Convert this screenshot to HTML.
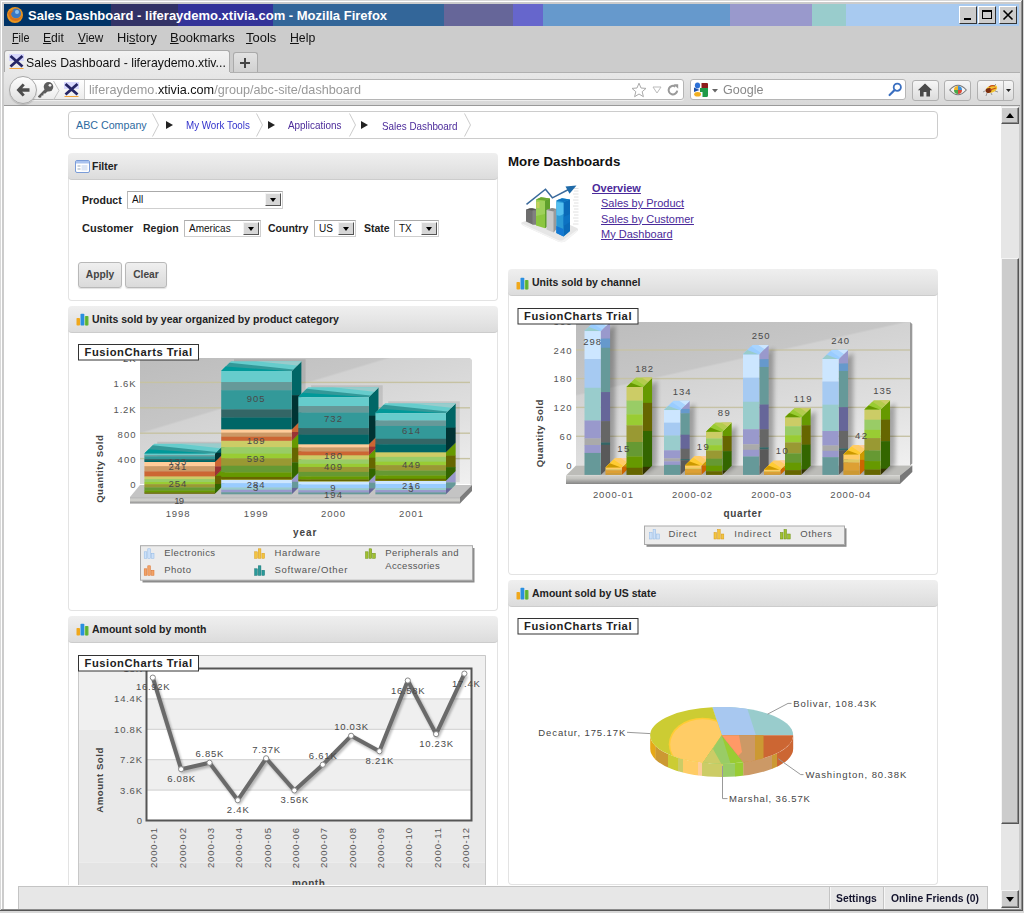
<!DOCTYPE html>
<html>
<head>
<meta charset="utf-8">
<title>Sales Dashboard</title>
<style>
*{box-sizing:border-box;margin:0;padding:0}
html,body{width:1024px;height:913px;overflow:hidden;background:#ccc;font-family:"Liberation Sans",sans-serif;}
body{position:relative}
.abs{position:absolute}
.t{position:absolute;white-space:nowrap;line-height:1}
/* title */
#titlebar{left:4px;top:4px;width:1015px;height:22px;background:linear-gradient(90deg,#003366 0,#003366 107px,#333366 107px,#333366 174px,#333399 174px,#333399 269px,#336699 269px,#336699 440px,#666699 440px,#666699 509px,#6666cc 509px,#6666cc 539px,#6699cc 539px,#6699cc 726px,#9999cc 726px,#9999cc 808px,#99cccc 808px,#99cccc 842px,#a8caf0 842px);}
.wbtn{position:absolute;top:6px;height:17px;width:16px;background:#ccc;border:1px solid;border-color:#fff #333 #333 #fff;}
.m{top:31px;font-size:13.5px;color:#111}
.m span{display:inline-block;transform-origin:0 0}
.tb{top:80px;height:21px;border:1px solid #b0b0b0;border-radius:3px;background:linear-gradient(#f6f6f6,#dcdcdc)}
.bc{top:120px;font-size:10.5px}
.fl{font-size:10.5px;font-weight:bold;color:#222}
.sel{position:absolute;height:17px;border:1px solid #cfcfcf;border-top-color:#aaa;border-left-color:#bbb;background:#fff;font-size:10px;color:#111;line-height:15px;padding-left:4px;white-space:nowrap}
.sel i{position:absolute;right:1px;top:1px;width:16px;height:13px;background:#d6d6d6;border:1px solid;border-color:#f4f4f4 #555 #555 #f4f4f4}
.sel i:after{content:"";position:absolute;left:3.5px;top:3.5px;border:3.5px solid transparent;border-top:4px solid #000;border-bottom:none}
.btn{position:absolute;height:26px;border:1px solid #b8b8b8;border-radius:3px;background:linear-gradient(#efefef,#dadada);font-size:10.2px;font-weight:bold;color:#444;text-align:center;line-height:24px;box-shadow:0 1px 1px rgba(0,0,0,.12)}
.lk{font-size:11px;color:#4b2a9a;text-decoration:underline}
.sbb{background:#ccc;border:1px solid;border-color:#f4f4f4 #555 #555 #f4f4f4;box-shadow:inset -1px -1px 0 #8c8c8c}
/* portlets */
.ph{position:absolute;height:27px;border-radius:4px;background:linear-gradient(#efefef 0,#e6e6e6 50%,#dcdcdc 100%);border-bottom:1px solid #ccc}
.pb{position:absolute;border:1px solid #e3e3e3;border-top:none;border-radius:0 0 4px 4px;background:#fff}
.pt{position:absolute;white-space:nowrap;font-weight:bold;font-size:10.5px;color:#222;line-height:1}
.fct{position:absolute;border:1px solid #333;background:#fff;font-family:"Liberation Sans",sans-serif;font-weight:bold;font-size:11.5px;color:#222;line-height:13px;height:16px;padding:0 6px;white-space:nowrap;letter-spacing:.2px}
svg{position:absolute;overflow:visible}
svg text{font-family:"Liberation Sans",sans-serif}
</style>
</head>
<body>
<!-- window frame -->
<div class="abs" style="left:0;top:0;width:1024px;height:913px;background:#ccc"></div>
<div class="abs" style="left:0;top:0;width:1024px;height:1px;background:#d8d8d8"></div>
<div class="abs" style="left:0;top:0;width:1px;height:913px;background:#d8d8d8"></div>
<div class="abs" style="left:1px;top:1px;width:1021px;height:1px;background:#fff"></div>
<div class="abs" style="left:1px;top:1px;width:1px;height:909px;background:#fff"></div>
<div class="abs" style="left:1021px;top:1px;width:1px;height:910px;background:#8c8c8c"></div>
<div class="abs" style="left:1022px;top:0;width:1px;height:912px;background:#555"></div>
<div class="abs" style="left:1023px;top:0;width:1px;height:913px;background:#d8d8d8"></div>
<div class="abs" style="left:1px;top:909px;width:1021px;height:1px;background:#8c8c8c"></div>
<div class="abs" style="left:0;top:910px;width:1023px;height:1px;background:#555"></div>
<div class="abs" style="left:0;top:911px;width:1024px;height:2px;background:#d8d8d8"></div>

<div id="titlebar" class="abs"></div>
<div class="t" id="titletext" style="left:28px;top:9px;font-size:13px;font-weight:bold;color:#fff;">Sales Dashboard - liferaydemo.xtivia.com - Mozilla Firefox</div>


<!-- window buttons -->
<div class="wbtn" style="left:959px;width:18px;height:18px"><div class="abs" style="left:4px;top:11px;width:7px;height:2px;background:#000"></div></div>
<div class="wbtn" style="left:978px;width:18px;height:18px"><div class="abs" style="left:3px;top:3px;width:10px;height:9px;border:1px solid #000;border-top:2px solid #000"></div></div>
<div class="wbtn" style="left:999px;width:18px;height:18px"><svg style="left:3px;top:3px" width="10" height="10" viewBox="0 0 10 10"><path d="M0.5 0.5 L9.5 9.5 M9.5 0.5 L0.5 9.5" stroke="#000" stroke-width="1.6" fill="none"/></svg></div>
<!-- firefox icon -->
<svg style="left:6px;top:6px" width="18" height="18" viewBox="0 0 18 18"><circle cx="9" cy="9" r="8" fill="#e8951f"/><circle cx="10" cy="7.5" r="5" fill="#3b78c4"/><path d="M2 7 Q3 14 9 15 Q15 15 16 9 Q14 13 9 12.5 Q5 12 5 8 Q6 5 8 5 Q5 3 2 7Z" fill="#d9711a"/><circle cx="11" cy="6" r="2" fill="#8cc0f0"/></svg>

<!-- menu bar -->
<div class="t m" style="left:12px;width:16px"><span style="transform:scaleX(.80)"><u>F</u>ile</span></div>
<div class="t m" style="left:43px"><span style="transform:scaleX(.90)"><u>E</u>dit</span></div>
<div class="t m" style="left:78px"><span style="transform:scaleX(.87)"><u>V</u>iew</span></div>
<div class="t m" style="left:117px"><span style="transform:scaleX(.95)">Hi<u>s</u>tory</span></div>
<div class="t m" style="left:170px"><span style="transform:scaleX(.96)"><u>B</u>ookmarks</span></div>
<div class="t m" style="left:246px"><span style="transform:scaleX(.96)"><u>T</u>ools</span></div>
<div class="t m" style="left:290px"><span style="transform:scaleX(.91)"><u>H</u>elp</span></div>

<!-- tab strip -->
<div class="abs" style="left:4px;top:50px;width:226px;height:24px;background:linear-gradient(#f2f2f2,#e6e6e6);border:1px solid #aaa;border-bottom:none;border-radius:3px 3px 0 0"></div>
<svg style="left:9px;top:54px" width="15" height="16" viewBox="0 0 15 16"><rect x="0" y="0" width="15" height="7" fill="#ccccff" opacity=".7"/><path d="M1.5 2 L13.5 12.5 M13.5 2 L1.5 12.5" stroke="#262666" stroke-width="2.8" fill="none"/><rect x="0.5" y="14" width="14" height="1" fill="#f2a33a"/></svg>
<div class="t" style="left:26px;top:56px;font-size:13px;color:#111"><span style="display:inline-block;transform:scaleX(.945);transform-origin:0 0">Sales Dashboard - liferaydemo.xtiv...</span></div>
<div class="abs" style="left:233px;top:52px;width:25px;height:21px;background:linear-gradient(#e2e2e2,#d0d0d0);border:1px solid #aaa;border-bottom:none;border-radius:3px 3px 0 0"></div>
<div class="abs" style="left:240px;top:62px;width:10px;height:2px;background:#444"></div>
<div class="abs" style="left:244px;top:58px;width:2px;height:10px;background:#444"></div>

<!-- nav bar -->
<div class="abs" style="left:4px;top:72px;width:1016px;height:34px;background:linear-gradient(#e8e8e8,#d8d8d8);border-bottom:1px solid #999"></div>
<div class="abs" style="left:230px;top:72px;width:790px;height:1px;background:#b0b0b0"></div>
<!-- url field -->
<div class="abs" style="left:20px;top:79px;width:664px;height:21px;background:#fff;border:1px solid #b5b5b5;border-radius:3px;box-shadow:0 1px 0 #eee"></div>
<div class="abs" style="left:21px;top:80px;width:63px;height:19px;background:linear-gradient(#fff,#ececec)"></div>
<div class="abs" style="left:84px;top:80px;width:1px;height:19px;background:#ccc"></div>
<!-- back button -->
<div class="abs" style="left:9px;top:76px;width:28px;height:28px;border-radius:14px;background:linear-gradient(#fdfdfd,#dedede);border:1px solid #a8a8a8;box-shadow:0 1px 1px rgba(0,0,0,.15)"></div>
<svg style="left:15px;top:82px" width="16" height="16" viewBox="0 0 16 16"><path d="M14.5 6.3 H7.2 L9.8 3.2 L7.6 1.6 L1.5 8 L7.6 14.4 L9.8 12.8 L7.2 9.7 H14.5 Z" fill="#4d4d4d"/></svg>
<!-- key icon -->
<svg style="left:37px;top:81px" width="17" height="18" viewBox="0 0 17 18"><circle cx="11.5" cy="5.8" r="4.8" fill="#5c5c5c"/><circle cx="13" cy="4.3" r="1.4" fill="#f2f2f2"/><path d="M8 8 L0.8 15.4 L2 16.8 L4.2 16.4 L4.5 14.6 L6.3 14.4 L6.6 12.6 L8.4 12.4 L11 10 Z" fill="#5c5c5c"/></svg>
<svg style="left:53px;top:81px" width="7" height="19" viewBox="0 0 7 19"><path d="M0.5 0 L6 9.5 L0.5 19" stroke="#c4c4c4" fill="none"/></svg>
<svg style="left:64px;top:82px" width="15" height="16" viewBox="0 0 15 16"><rect x="0" y="0" width="15" height="7" fill="#ccccff" opacity=".7"/><path d="M1.5 2 L13.5 12.5 M13.5 2 L1.5 12.5" stroke="#262666" stroke-width="2.8" fill="none"/><rect x="0.5" y="14" width="14" height="1" fill="#f2a33a"/></svg>
<div class="t" style="left:89px;top:83px;font-size:13.5px;color:#999"><span style="display:inline-block;transform:scaleX(.937);transform-origin:0 0">liferaydemo.<span style="color:#111">xtivia.com</span>/group/abc-site/dashboard</span></div>
<!-- star, dropdown, reload -->
<svg style="left:631px;top:82px" width="16" height="16" viewBox="0 0 16 16"><path d="M8 1.2 L10 6 L15 6.4 L11.2 9.7 L12.4 14.7 L8 12 L3.6 14.7 L4.8 9.7 L1 6.4 L6 6 Z" fill="#fff" stroke="#aaa" stroke-width="1"/></svg>
<svg style="left:652px;top:86px" width="10" height="8" viewBox="0 0 10 8"><path d="M1 1 H9 L5 7 Z" fill="#fff" stroke="#bbb"/></svg>
<svg style="left:666px;top:83px" width="14" height="14" viewBox="0 0 14 14"><path d="M11.2 7.6 A4.3 4.3 0 1 1 9.4 3.6" stroke="#999" stroke-width="2" fill="none"/><path d="M7.6 1.2 H12.2 V5.8 Z" fill="#999"/></svg>
<!-- search field -->
<div class="abs" style="left:690px;top:79px;width:216px;height:21px;background:#fff;border:1px solid #b5b5b5;border-radius:3px"></div>
<svg style="left:693px;top:82px" width="16" height="16" viewBox="0 0 16 16"><rect x="0.5" y="0.5" width="15" height="15" rx="2" fill="#fbfbfb"/><path d="M8.5 1 H14 Q15 1 15 2 V6 H8.5Z" fill="#8e1b1b"/><path d="M7 6 H15 V13.5 Q15 15 13.5 15 H9.5 V10 H7Z" fill="#1f9a48"/><ellipse cx="4.5" cy="3.6" rx="2.6" ry="3" fill="#2b6fd6"/><path d="M1 5.5 L6.5 8 L1 10Z" fill="#1d4fa8"/><ellipse cx="4.6" cy="12.2" rx="3.4" ry="2.3" fill="#f2b020"/></svg>
<svg style="left:712px;top:89px" width="6" height="3.5" viewBox="0 0 6 3.5"><path d="M0 0 H6 L3 3.5Z" fill="#666"/></svg>
<div class="t" style="left:723px;top:83px;font-size:13.5px;color:#888"><span style="display:inline-block;transform:scaleX(.93);transform-origin:0 0">Google</span></div>
<svg style="left:888px;top:82px" width="15" height="15" viewBox="0 0 15 15"><circle cx="9.3" cy="5.2" r="3.6" stroke="#3a6fc0" stroke-width="1.8" fill="#fff"/><path d="M6.6 8 L1.6 13" stroke="#3a6fc0" stroke-width="2.2" stroke-linecap="round"/></svg>
<!-- toolbar buttons -->
<div class="abs tb" style="left:912px;width:27px"></div>
<div class="abs tb" style="left:944px;width:27px"></div>
<div class="abs tb" style="left:977px;width:37px"></div>
<div class="abs" style="left:1003px;top:81px;width:1px;height:19px;background:#b5b5b5"></div>
<svg style="left:917px;top:83px" width="16" height="14" viewBox="0 0 16 14"><path d="M8 0.5 L0.8 7.2 H3 V13.5 H6.6 V9 H9.4 V13.5 H13 V7.2 H15.2 Z" fill="#4a4a4a"/></svg>
<svg style="left:949px;top:84px" width="18" height="12" viewBox="0 0 18 12"><path d="M0.7 6 Q9 -3.5 17.3 6 Q9 15.5 0.7 6Z" fill="#f4f4f4" stroke="#777" stroke-width="1.1"/><path d="M9 6 V2 A4 4 0 0 1 13 6Z" fill="#3d8fd6"/><path d="M9 6 H13 A4 4 0 0 1 9 10Z" fill="#d94a38"/><path d="M9 6 V10 A4 4 0 0 1 5 6Z" fill="#4aa84a"/><path d="M9 6 H5 A4 4 0 0 1 9 2Z" fill="#f0b429"/></svg>
<svg style="left:982px;top:82px" width="18" height="16" viewBox="0 0 18 16"><ellipse cx="9.5" cy="7" rx="6" ry="3.6" transform="rotate(-22 9.5 7)" fill="#f2c230"/><ellipse cx="6.5" cy="8.5" rx="3" ry="2.3" transform="rotate(-22 6.5 8.5)" fill="#7a2c10"/><path d="M7 5 Q10 3 13 4 M8 8 Q11 7 14 6" stroke="#c74c1a" stroke-width="1.2" fill="none"/><path d="M3 9 L1 10 M5 11 L4 14 M9 11 L10 13 M13 9 L16 10 M12 4 L14 2" stroke="#777" stroke-width=".7"/></svg>
<svg style="left:1006px;top:89px" width="5" height="3" viewBox="0 0 5 3"><path d="M0 0 H5 L2.5 3Z" fill="#222"/></svg>


<!-- content -->
<div id="content" class="abs" style="left:4px;top:106px;width:997px;height:779px;background:#fff;overflow:hidden">
<div class="abs" style="left:-4px;top:-106px;width:1024px;height:913px">
<div class="abs" style="left:68px;top:111px;width:870px;height:28px;border:1px solid #ccc;border-radius:4px;background:#fff"></div>
<div class="t bc" style="left:76px;color:#2d6aa0;font-size:10.7px">ABC Company</div>
<div class="t bc" style="left:186px;color:#3333cc;font-size:10.6px;top:120px"><span style="display:inline-block;transform:scaleX(.925);transform-origin:0 0">My Work Tools</span></div>
<div class="t bc" style="left:288px;color:#4b2a9a;font-size:10.6px;top:120px"><span style="display:inline-block;transform:scaleX(.935);transform-origin:0 0">Applications</span></div>
<div class="t bc" style="left:382px;top:120.5px;color:#4b2a9a;font-size:10.6px"><span style="display:inline-block;transform:scaleX(.93);transform-origin:0 0">Sales Dashboard</span></div>
<svg style="left:152px;top:113px" width="8" height="24" viewBox="0 0 8 24"><path d="M0.5 0.5 L6.5 12 L0.5 23.5" stroke="#ccc" fill="none"/></svg>
<svg style="left:256px;top:113px" width="8" height="24" viewBox="0 0 8 24"><path d="M0.5 0.5 L6.5 12 L0.5 23.5" stroke="#ccc" fill="none"/></svg>
<svg style="left:349px;top:113px" width="8" height="24" viewBox="0 0 8 24"><path d="M0.5 0.5 L6.5 12 L0.5 23.5" stroke="#ccc" fill="none"/></svg>
<svg style="left:464px;top:113px" width="8" height="24" viewBox="0 0 8 24"><path d="M0.5 0.5 L6.5 12 L0.5 23.5" stroke="#ccc" fill="none"/></svg>
<svg style="left:166px;top:121px" width="7" height="8" viewBox="0 0 7 8"><path d="M0 0 L7 4 L0 8Z" fill="#222"/></svg>
<svg style="left:268px;top:121px" width="7" height="8" viewBox="0 0 7 8"><path d="M0 0 L7 4 L0 8Z" fill="#222"/></svg>
<svg style="left:361px;top:121px" width="7" height="8" viewBox="0 0 7 8"><path d="M0 0 L7 4 L0 8Z" fill="#222"/></svg>
<div class="pb" style="left:68px;top:176px;width:430px;height:125px"></div>
<div class="ph" style="left:68px;top:153px;width:430px;height:27px"></div>
<svg style="left:75px;top:160px" width="15" height="13" viewBox="0 0 15 13"><rect x="0.5" y="0.5" width="14" height="12" rx="1.5" fill="#fff" stroke="#7a9cd8"/><rect x="1" y="1" width="13" height="2.5" fill="#a9c2ee"/><rect x="2.5" y="5.5" width="3" height="1" fill="#9ab"/><rect x="2.5" y="8.5" width="3" height="1" fill="#9ab"/><rect x="6.5" y="5" width="6" height="5.5" fill="#dde6f5"/></svg>
<div class="pt" style="left:92px;top:161px">Filter</div>
<div class="t fl" style="left:82px;top:195px">Product</div>
<div class="sel" style="left:127px;top:191px;width:156px;height:18px"><span>All</span><i></i></div>
<div class="t fl" style="left:82px;top:223px;font-size:11px">Customer</div>
<div class="t fl" style="left:143px;top:223px">Region</div>
<div class="sel" style="left:184px;top:220px;width:77px"><span>Americas</span><i></i></div>
<div class="t fl" style="left:268px;top:223px">Country</div>
<div class="sel" style="left:314px;top:220px;width:42px"><span>US</span><i></i></div>
<div class="t fl" style="left:364px;top:223px">State</div>
<div class="sel" style="left:394px;top:220px;width:45px"><span>TX</span><i></i></div>
<div class="btn" style="left:78px;top:262px;width:44px">Apply</div>
<div class="btn" style="left:125px;top:262px;width:42px">Clear</div>
<div class="pb" style="left:68px;top:329px;width:430px;height:282px"></div>
<div class="ph" style="left:68px;top:306px;width:430px;height:27px"></div>
<svg style="left:76px;top:313px" width="13" height="13" viewBox="0 0 13 13"><rect x="0.5" y="5" width="3.5" height="7.5" rx=".8" fill="#f0a81c"/><rect x="4.5" y="0.8" width="3.8" height="11.7" rx=".8" fill="#2a8fe0"/><rect x="8.8" y="3" width="3.7" height="9.5" rx=".8" fill="#6cbf3c"/><rect x="10.3" y="3" width="1" height="9.5" fill="#4a9a2a" opacity=".6"/></svg>
<div class="pt" style="left:92px;top:314px">Units sold by year organized by product category</div>
<svg style="left:0;top:0" width="1024" height="913" viewBox="0 0 1024 913">
<defs><linearGradient id="wall1" gradientUnits="userSpaceOnUse" x1="140" y1="358" x2="202.6" y2="564.9"><stop offset="0" stop-color="#bcbcbc"/><stop offset=".328" stop-color="#c6c6c6"/><stop offset=".338" stop-color="#d2d2d2"/><stop offset=".7" stop-color="#e0e0e0"/><stop offset="1" stop-color="#f0f0f0"/></linearGradient>
<linearGradient id="base1" x1="0" y1="0" x2="0" y2="1"><stop offset="0" stop-color="#b8b8b8"/><stop offset=".5" stop-color="#d4d4d0"/><stop offset="1" stop-color="#8a8a8a"/></linearGradient></defs>
<rect x="140" y="358" width="330" height="126" fill="url(#wall1)"/>
<path d="M470 358 L472 360 L472 486 L470 484Z" fill="#d8d8d8"/>
<rect x="140" y="381.7" width="330" height="1.4" fill="#c6c2a2"/><rect x="140" y="407.09999999999997" width="330" height="1.4" fill="#c6c2a2"/><rect x="140" y="432.5" width="330" height="1.4" fill="#c6c2a2"/><rect x="140" y="457.9" width="330" height="1.4" fill="#c6c2a2"/>
<path d="M140 485 L472 485 L460 497 L130 497Z" fill="#c4c4c4"/>
<path d="M472 485 L472 491 L460 503.5 L460 497Z" fill="#7c7c7c"/>
<rect x="130" y="497" width="330" height="6.5" fill="url(#base1)"/>
<text x="135.5" y="361.8" font-size="9.5" fill="#555" text-anchor="end" textLength="12.5" lengthAdjust="spacing">2K</text>
<text x="135.5" y="387.3" font-size="9.5" fill="#555" text-anchor="end" textLength="21.9" lengthAdjust="spacing">1.6K</text>
<text x="135.5" y="412.5" font-size="9.5" fill="#555" text-anchor="end" textLength="21.9" lengthAdjust="spacing">1.2K</text>
<text x="135.5" y="437.8" font-size="9.5" fill="#555" text-anchor="end" textLength="17.9" lengthAdjust="spacing">800</text>
<text x="135.5" y="462.8" font-size="9.5" fill="#555" text-anchor="end" textLength="17.9" lengthAdjust="spacing">400</text>
<text x="135.5" y="488.0" font-size="9.5" fill="#555" text-anchor="end" textLength="6.0" lengthAdjust="spacing">0</text>
<text x="103.0" y="469.0" font-size="9.6" fill="#444" text-anchor="middle" textLength="67.6" lengthAdjust="spacing" font-weight="bold" transform="rotate(-90 103 469)">Quantity Sold</text>
<rect x="157.2" y="441.8" width="71.6" height="39.9" fill="#000" opacity=".10"/>
<rect x="144.4" y="476.10" width="70.6" height="3.26" fill="#cccc66"/><rect x="144.4" y="479.06" width="70.6" height="3.26" fill="#99cc66"/><rect x="144.4" y="482.02" width="70.6" height="2.39" fill="#99cc33"/><rect x="144.4" y="484.10" width="70.6" height="3.61" fill="#999933"/><rect x="144.4" y="487.41" width="70.6" height="3.26" fill="#669933"/><rect x="144.4" y="490.37" width="70.6" height="2.39" fill="#669900"/><rect x="144.4" y="492.46" width="70.6" height="1.34" fill="#666600"/>
<clipPath id="sc1"><path d="M215.0 476.10 L224.8 466.30 L224.8 484.00 L215.0 493.80Z"/></clipPath><g clip-path="url(#sc1)"><rect x="215.0" y="466.30" width="9.8" height="9.82" fill="#669900"/><rect x="215.0" y="475.82" width="9.8" height="8.46" fill="#666600"/><rect x="215.0" y="483.98" width="9.8" height="9.82" fill="#336600"/></g>
<rect x="144.4" y="461.70" width="70.6" height="4.76" fill="#ffcc99"/><rect x="144.4" y="466.16" width="70.6" height="5.48" fill="#cc9966"/><rect x="144.4" y="471.35" width="70.6" height="5.05" fill="#cc6633"/>
<clipPath id="sc2"><path d="M215.0 461.70 L224.8 451.90 L224.8 466.60 L215.0 476.40Z"/></clipPath><g clip-path="url(#sc2)"><rect x="215.0" y="451.90" width="9.8" height="14.82" fill="#cc6633"/><rect x="215.0" y="466.42" width="9.8" height="9.98" fill="#993333"/></g>
<rect x="144.4" y="453.60" width="70.6" height="1.84" fill="#66cccc"/><rect x="144.4" y="455.14" width="70.6" height="1.43" fill="#669999"/><rect x="144.4" y="456.27" width="70.6" height="2.97" fill="#339999"/><rect x="144.4" y="458.95" width="70.6" height="1.43" fill="#336666"/><rect x="144.4" y="460.08" width="70.6" height="1.92" fill="#006666"/>
<clipPath id="sc3"><path d="M215.0 453.60 L224.8 443.80 L224.8 452.20 L215.0 462.00Z"/></clipPath><g clip-path="url(#sc3)"><rect x="215.0" y="443.80" width="9.8" height="9.25" fill="#006666"/><rect x="215.0" y="452.75" width="9.8" height="9.25" fill="#003333"/></g>
<path d="M144.4 453.6 L154.2 443.8 L224.8 443.8 L215.0 453.6Z" fill="#66cccc"/><path d="M144.4 453.6 L152.7 445.3 L216.5 452.1 L215.0 453.6Z" fill="#339999"/><path d="M144.4 453.6 L148.8 449.2 L211.5 453.6Z" fill="#009999"/><path d="M178.9 443.8 L224.8 443.8 L220.4 448.2Z" fill="#99cccc"/>
<text x="177.6" y="517.3" font-size="9.5" fill="#555" text-anchor="middle" textLength="23.9" lengthAdjust="spacing">1998</text>
<rect x="234.0" y="359.2" width="71.6" height="123.0" fill="#000" opacity=".10"/>
<rect x="221.2" y="479.30" width="70.6" height="4.12" fill="#cce6ff"/><rect x="221.2" y="483.12" width="70.6" height="4.71" fill="#99ccff"/><rect x="221.2" y="487.53" width="70.6" height="2.50" fill="#99cccc"/><rect x="221.2" y="489.74" width="70.6" height="2.80" fill="#9999cc"/><rect x="221.2" y="492.24" width="70.6" height="2.06" fill="#669999"/>
<clipPath id="sc4"><path d="M291.8 479.30 L301.6 469.50 L301.6 484.50 L291.8 494.30Z"/></clipPath><g clip-path="url(#sc4)"><rect x="291.8" y="469.50" width="9.8" height="12.55" fill="#9999cc"/><rect x="291.8" y="481.75" width="9.8" height="6.42" fill="#669999"/><rect x="291.8" y="487.88" width="9.8" height="6.42" fill="#666699"/></g>
<rect x="221.2" y="478.7" width="70.6" height="1" fill="#cccc33"/><rect x="221.2" y="440.50" width="70.6" height="6.90" fill="#cccc66"/><rect x="221.2" y="447.10" width="70.6" height="6.90" fill="#99cc66"/><rect x="221.2" y="453.69" width="70.6" height="4.96" fill="#99cc33"/><rect x="221.2" y="458.35" width="70.6" height="7.67" fill="#999933"/><rect x="221.2" y="465.72" width="70.6" height="6.90" fill="#669933"/><rect x="221.2" y="472.32" width="70.6" height="4.96" fill="#669900"/><rect x="221.2" y="476.97" width="70.6" height="2.63" fill="#666600"/>
<clipPath id="sc5"><path d="M291.8 440.50 L301.6 430.70 L301.6 469.80 L291.8 479.60Z"/></clipPath><g clip-path="url(#sc5)"><rect x="291.8" y="430.70" width="9.8" height="17.31" fill="#669900"/><rect x="291.8" y="447.71" width="9.8" height="14.88" fill="#666600"/><rect x="291.8" y="462.29" width="9.8" height="17.31" fill="#336600"/></g>
<rect x="221.2" y="429.10" width="70.6" height="3.83" fill="#ffcc99"/><rect x="221.2" y="432.63" width="70.6" height="4.40" fill="#cc9966"/><rect x="221.2" y="436.74" width="70.6" height="4.06" fill="#cc6633"/>
<clipPath id="sc6"><path d="M291.8 429.10 L301.6 419.30 L301.6 431.00 L291.8 440.80Z"/></clipPath><g clip-path="url(#sc6)"><rect x="291.8" y="419.30" width="9.8" height="13.02" fill="#cc6633"/><rect x="291.8" y="432.02" width="9.8" height="8.78" fill="#993333"/></g>
<rect x="221.2" y="371.00" width="70.6" height="11.34" fill="#66cccc"/><rect x="221.2" y="382.04" width="70.6" height="8.43" fill="#669999"/><rect x="221.2" y="390.17" width="70.6" height="19.47" fill="#339999"/><rect x="221.2" y="409.35" width="70.6" height="8.43" fill="#336666"/><rect x="221.2" y="417.48" width="70.6" height="11.92" fill="#006666"/>
<clipPath id="sc7"><path d="M291.8 371.00 L301.6 361.20 L301.6 419.60 L291.8 429.40Z"/></clipPath><g clip-path="url(#sc7)"><rect x="291.8" y="361.20" width="9.8" height="34.25" fill="#006666"/><rect x="291.8" y="395.15" width="9.8" height="34.25" fill="#003333"/></g>
<path d="M221.2 371.0 L231.0 361.2 L301.6 361.2 L291.8 371.0Z" fill="#66cccc"/><path d="M221.2 371.0 L229.5 362.7 L293.3 369.5 L291.8 371.0Z" fill="#339999"/><path d="M221.2 371.0 L225.6 366.6 L288.3 371.0Z" fill="#009999"/><path d="M255.7 361.2 L301.6 361.2 L297.2 365.6Z" fill="#99cccc"/>
<text x="255.7" y="517.3" font-size="9.5" fill="#555" text-anchor="middle" textLength="23.9" lengthAdjust="spacing">1999</text>
<rect x="311.1" y="385.3" width="71.6" height="96.9" fill="#000" opacity=".10"/>
<rect x="298.3" y="481.00" width="70.6" height="3.68" fill="#cce6ff"/><rect x="298.3" y="484.38" width="70.6" height="4.20" fill="#99ccff"/><rect x="298.3" y="488.28" width="70.6" height="2.25" fill="#99cccc"/><rect x="298.3" y="490.23" width="70.6" height="2.51" fill="#9999cc"/><rect x="298.3" y="492.44" width="70.6" height="1.86" fill="#669999"/>
<clipPath id="sc8"><path d="M368.9 481.00 L378.7 471.20 L378.7 484.50 L368.9 494.30Z"/></clipPath><g clip-path="url(#sc8)"><rect x="368.9" y="471.20" width="9.8" height="11.70" fill="#9999cc"/><rect x="368.9" y="482.60" width="9.8" height="6.00" fill="#669999"/><rect x="368.9" y="488.30" width="9.8" height="6.00" fill="#666699"/></g>
<rect x="298.3" y="480.4" width="70.6" height="1" fill="#cccc33"/><rect x="298.3" y="455.00" width="70.6" height="4.72" fill="#cccc66"/><rect x="298.3" y="459.42" width="70.6" height="4.72" fill="#99cc66"/><rect x="298.3" y="463.84" width="70.6" height="3.42" fill="#99cc33"/><rect x="298.3" y="466.96" width="70.6" height="5.24" fill="#999933"/><rect x="298.3" y="471.90" width="70.6" height="4.72" fill="#669933"/><rect x="298.3" y="476.32" width="70.6" height="3.42" fill="#669900"/><rect x="298.3" y="479.44" width="70.6" height="1.86" fill="#666600"/>
<clipPath id="sc9"><path d="M368.9 455.00 L378.7 445.20 L378.7 471.50 L368.9 481.30Z"/></clipPath><g clip-path="url(#sc9)"><rect x="368.9" y="445.20" width="9.8" height="12.83" fill="#669900"/><rect x="368.9" y="457.73" width="9.8" height="11.04" fill="#666600"/><rect x="368.9" y="468.47" width="9.8" height="12.83" fill="#336600"/></g>
<rect x="298.3" y="444.00" width="70.6" height="3.71" fill="#ffcc99"/><rect x="298.3" y="447.41" width="70.6" height="4.26" fill="#cc9966"/><rect x="298.3" y="451.37" width="70.6" height="3.93" fill="#cc6633"/>
<clipPath id="sc10"><path d="M368.9 444.00 L378.7 434.20 L378.7 445.50 L368.9 455.30Z"/></clipPath><g clip-path="url(#sc10)"><rect x="368.9" y="434.20" width="9.8" height="12.78" fill="#cc6633"/><rect x="368.9" y="446.68" width="9.8" height="8.62" fill="#993333"/></g>
<rect x="298.3" y="397.10" width="70.6" height="9.21" fill="#66cccc"/><rect x="298.3" y="406.01" width="70.6" height="6.87" fill="#669999"/><rect x="298.3" y="412.58" width="70.6" height="15.78" fill="#339999"/><rect x="298.3" y="428.05" width="70.6" height="6.87" fill="#336666"/><rect x="298.3" y="434.62" width="70.6" height="9.68" fill="#006666"/>
<clipPath id="sc11"><path d="M368.9 397.10 L378.7 387.30 L378.7 434.50 L368.9 444.30Z"/></clipPath><g clip-path="url(#sc11)"><rect x="368.9" y="387.30" width="9.8" height="28.65" fill="#006666"/><rect x="368.9" y="415.65" width="9.8" height="28.65" fill="#003333"/></g>
<path d="M298.3 397.1 L308.1 387.3 L378.7 387.3 L368.9 397.1Z" fill="#66cccc"/><path d="M298.3 397.1 L306.6 388.8 L370.4 395.6 L368.9 397.1Z" fill="#339999"/><path d="M298.3 397.1 L302.7 392.7 L365.4 397.1Z" fill="#009999"/><path d="M332.8 387.3 L378.7 387.3 L374.3 391.7Z" fill="#99cccc"/>
<text x="333.0" y="517.3" font-size="9.5" fill="#555" text-anchor="middle" textLength="23.9" lengthAdjust="spacing">2000</text>
<rect x="388.2" y="401.3" width="71.6" height="80.9" fill="#000" opacity=".10"/>
<rect x="375.4" y="480.50" width="70.6" height="3.81" fill="#cce6ff"/><rect x="375.4" y="484.01" width="70.6" height="4.35" fill="#99ccff"/><rect x="375.4" y="488.06" width="70.6" height="2.32" fill="#99cccc"/><rect x="375.4" y="490.08" width="70.6" height="2.60" fill="#9999cc"/><rect x="375.4" y="492.38" width="70.6" height="1.92" fill="#669999"/>
<clipPath id="sc12"><path d="M446.0 480.50 L455.8 470.70 L455.8 484.50 L446.0 494.30Z"/></clipPath><g clip-path="url(#sc12)"><rect x="446.0" y="470.70" width="9.8" height="11.95" fill="#9999cc"/><rect x="446.0" y="482.35" width="9.8" height="6.13" fill="#669999"/><rect x="446.0" y="488.18" width="9.8" height="6.13" fill="#666699"/></g>
<rect x="375.4" y="479.9" width="70.6" height="1" fill="#cccc33"/><rect x="375.4" y="452.00" width="70.6" height="5.15" fill="#cccc66"/><rect x="375.4" y="456.85" width="70.6" height="5.15" fill="#99cc66"/><rect x="375.4" y="461.69" width="70.6" height="3.72" fill="#99cc33"/><rect x="375.4" y="465.11" width="70.6" height="5.71" fill="#999933"/><rect x="375.4" y="470.53" width="70.6" height="5.15" fill="#669933"/><rect x="375.4" y="475.37" width="70.6" height="3.72" fill="#669900"/><rect x="375.4" y="478.79" width="70.6" height="2.01" fill="#666600"/>
<clipPath id="sc13"><path d="M446.0 452.00 L455.8 442.20 L455.8 471.00 L446.0 480.80Z"/></clipPath><g clip-path="url(#sc13)"><rect x="446.0" y="442.20" width="9.8" height="13.71" fill="#669900"/><rect x="446.0" y="455.61" width="9.8" height="11.79" fill="#666600"/><rect x="446.0" y="467.10" width="9.8" height="13.71" fill="#336600"/></g>
<rect x="375.4" y="413.10" width="70.6" height="7.69" fill="#66cccc"/><rect x="375.4" y="420.49" width="70.6" height="5.75" fill="#669999"/><rect x="375.4" y="425.94" width="70.6" height="13.14" fill="#339999"/><rect x="375.4" y="438.77" width="70.6" height="5.75" fill="#336666"/><rect x="375.4" y="444.22" width="70.6" height="8.08" fill="#006666"/>
<clipPath id="sc14"><path d="M446.0 413.10 L455.8 403.30 L455.8 442.50 L446.0 452.30Z"/></clipPath><g clip-path="url(#sc14)"><rect x="446.0" y="403.30" width="9.8" height="24.65" fill="#006666"/><rect x="446.0" y="427.65" width="9.8" height="24.65" fill="#003333"/></g>
<path d="M375.4 413.1 L385.2 403.3 L455.8 403.3 L446.0 413.1Z" fill="#66cccc"/><path d="M375.4 413.1 L383.7 404.8 L447.5 411.6 L446.0 413.1Z" fill="#339999"/><path d="M375.4 413.1 L379.8 408.7 L442.5 413.1Z" fill="#009999"/><path d="M409.9 403.3 L455.8 403.3 L451.4 407.7Z" fill="#99cccc"/>
<text x="411.0" y="517.3" font-size="9.5" fill="#555" text-anchor="middle" textLength="23.9" lengthAdjust="spacing">2001</text>
<text x="177.4" y="464.9" font-size="9.5" fill="#4a4a4a" text-anchor="middle" textLength="17.9" lengthAdjust="spacing">133</text>
<text x="177.4" y="470.4" font-size="9.5" fill="#4a4a4a" text-anchor="middle" textLength="17.9" lengthAdjust="spacing">241</text>
<text x="177.4" y="486.7" font-size="9.5" fill="#4a4a4a" text-anchor="middle" textLength="17.9" lengthAdjust="spacing">254</text>
<text x="255.7" y="402.3" font-size="9.5" fill="#4a4a4a" text-anchor="middle" textLength="17.9" lengthAdjust="spacing">905</text>
<text x="255.7" y="443.9" font-size="9.5" fill="#4a4a4a" text-anchor="middle" textLength="17.9" lengthAdjust="spacing">189</text>
<text x="255.7" y="462.0" font-size="9.5" fill="#4a4a4a" text-anchor="middle" textLength="17.9" lengthAdjust="spacing">593</text>
<text x="255.7" y="488.4" font-size="9.5" fill="#4a4a4a" text-anchor="middle" textLength="17.9" lengthAdjust="spacing">284</text>
<text x="255.7" y="491.0" font-size="9.5" fill="#4a4a4a" text-anchor="middle" textLength="6.0" lengthAdjust="spacing">3</text>
<text x="333.0" y="422.3" font-size="9.5" fill="#4a4a4a" text-anchor="middle" textLength="17.9" lengthAdjust="spacing">732</text>
<text x="333.0" y="458.9" font-size="9.5" fill="#4a4a4a" text-anchor="middle" textLength="17.9" lengthAdjust="spacing">180</text>
<text x="333.0" y="470.3" font-size="9.5" fill="#4a4a4a" text-anchor="middle" textLength="17.9" lengthAdjust="spacing">409</text>
<text x="333.0" y="490.5" font-size="9.5" fill="#4a4a4a" text-anchor="middle" textLength="6.0" lengthAdjust="spacing">9</text>
<text x="333.0" y="497.5" font-size="9.5" fill="#4a4a4a" text-anchor="middle" textLength="17.9" lengthAdjust="spacing">194</text>
<text x="411.0" y="434.0" font-size="9.5" fill="#4a4a4a" text-anchor="middle" textLength="17.9" lengthAdjust="spacing">614</text>
<text x="411.0" y="467.7" font-size="9.5" fill="#4a4a4a" text-anchor="middle" textLength="17.9" lengthAdjust="spacing">449</text>
<text x="411.0" y="489.2" font-size="9.5" fill="#4a4a4a" text-anchor="middle" textLength="17.9" lengthAdjust="spacing">216</text>
<text x="411.0" y="492.0" font-size="9.5" fill="#4a4a4a" text-anchor="middle" textLength="6.0" lengthAdjust="spacing">3</text>
<text x="181.5" y="503.8" font-size="9.5" fill="#4a4a4a" text-anchor="middle" textLength="6.0" lengthAdjust="spacing">9</text>
<text x="177.0" y="503.8" font-size="9.5" fill="#4a4a4a" text-anchor="middle" textLength="6.0" lengthAdjust="spacing">1</text>
<text x="304.7" y="536.0" font-size="10" fill="#444" text-anchor="middle" textLength="23.3" lengthAdjust="spacing" font-weight="bold">year</text>
<rect x="142.5" y="548" width="332" height="34.5" fill="#8c8c8c"/>
<rect x="140.5" y="545.7" width="332" height="34.5" fill="#ececec" stroke="#aaa"/>
<rect x="144.2" y="551.8" width="2.6" height="6.5" fill="#cce0f8" stroke="#8fb8e6" stroke-width=".5"/><rect x="147.79999999999998" y="548.8" width="2.6" height="9.5" fill="#cce0f8" stroke="#8fb8e6" stroke-width=".5"/><rect x="151.39999999999998" y="553.3" width="2.6" height="5" fill="#cce0f8" stroke="#8fb8e6" stroke-width=".5"/>
<text x="164.3" y="555.8" font-size="9.5" fill="#555" text-anchor="start" textLength="50.8" lengthAdjust="spacing">Electronics</text>
<rect x="144.2" y="568.8" width="2.6" height="6.5" fill="#f2a266" stroke="#d9702a" stroke-width=".5"/><rect x="147.79999999999998" y="565.8" width="2.6" height="9.5" fill="#f2a266" stroke="#d9702a" stroke-width=".5"/><rect x="151.39999999999998" y="570.3" width="2.6" height="5" fill="#f2a266" stroke="#d9702a" stroke-width=".5"/>
<text x="164.3" y="572.8" font-size="9.5" fill="#555" text-anchor="start" textLength="26.7" lengthAdjust="spacing">Photo</text>
<rect x="254.7" y="551.8" width="2.6" height="6.5" fill="#f2c440" stroke="#d99a14" stroke-width=".5"/><rect x="258.3" y="548.8" width="2.6" height="9.5" fill="#f2c440" stroke="#d99a14" stroke-width=".5"/><rect x="261.9" y="553.3" width="2.6" height="5" fill="#f2c440" stroke="#d99a14" stroke-width=".5"/>
<text x="274.5" y="555.8" font-size="9.5" fill="#555" text-anchor="start" textLength="45.5" lengthAdjust="spacing">Hardware</text>
<rect x="254.7" y="568.8" width="2.6" height="6.5" fill="#2a9a9a" stroke="#0d7070" stroke-width=".5"/><rect x="258.3" y="565.8" width="2.6" height="9.5" fill="#2a9a9a" stroke="#0d7070" stroke-width=".5"/><rect x="261.9" y="570.3" width="2.6" height="5" fill="#2a9a9a" stroke="#0d7070" stroke-width=".5"/>
<text x="274.5" y="572.8" font-size="9.5" fill="#555" text-anchor="start" textLength="73.0" lengthAdjust="spacing">Software/Other</text>
<rect x="365.5" y="551.8" width="2.6" height="6.5" fill="#a0c030" stroke="#6a9010" stroke-width=".5"/><rect x="369.1" y="548.8" width="2.6" height="9.5" fill="#a0c030" stroke="#6a9010" stroke-width=".5"/><rect x="372.7" y="553.3" width="2.6" height="5" fill="#a0c030" stroke="#6a9010" stroke-width=".5"/>
<text x="385.3" y="555.8" font-size="9.5" fill="#555" text-anchor="start" textLength="73.2" lengthAdjust="spacing">Peripherals and</text>
<text x="385.3" y="569.2" font-size="9.5" fill="#555" text-anchor="start" textLength="54.4" lengthAdjust="spacing">Accessories</text>
<rect x="78.5" y="344.5" width="120" height="15.5" fill="#fff" stroke="#333"/>
<text x="84.5" y="356.1" font-size="11.2" fill="#222" text-anchor="start" textLength="107.5" lengthAdjust="spacing" font-weight="bold">FusionCharts Trial</text>
</svg>

<div class="pb" style="left:68px;top:639px;width:430px;height:304px"></div>
<div class="ph" style="left:68px;top:616px;width:430px;height:27px"></div>
<svg style="left:76px;top:623px" width="13" height="13" viewBox="0 0 13 13"><rect x="0.5" y="5" width="3.5" height="7.5" rx=".8" fill="#f0a81c"/><rect x="4.5" y="0.8" width="3.8" height="11.7" rx=".8" fill="#2a8fe0"/><rect x="8.8" y="3" width="3.7" height="9.5" rx=".8" fill="#6cbf3c"/><rect x="10.3" y="3" width="1" height="9.5" fill="#4a9a2a" opacity=".6"/></svg>
<div class="pt" style="left:92px;top:624px">Amount sold by month</div>
<svg style="left:0;top:0" width="1024" height="913" viewBox="0 0 1024 913">
<defs><filter id="bl3" x="-10%" y="-10%" width="120%" height="120%"><feGaussianBlur stdDeviation="1.2"/></filter></defs>
<rect x="78" y="655" width="408" height="75" fill="#f0f0f0"/><rect x="78" y="730" width="408" height="132.5" fill="#e9e9e9"/><rect x="78" y="862.5" width="408" height="50" fill="#e4e4e4"/>
<path d="M78.5 913 V655.5 H485.5 V913" fill="none" stroke="#c8c8c8"/>
<rect x="146.5" y="668.5" width="325.0" height="152.0" fill="#fff"/>
<rect x="146.5" y="698.9" width="325.0" height="30.4" fill="#efefef"/><rect x="146.5" y="759.7" width="325.0" height="30.4" fill="#efefef"/>
<rect x="146.5" y="698.4" width="325.0" height="1" fill="#cfcfcf"/><rect x="146.5" y="728.8" width="325.0" height="1" fill="#cfcfcf"/><rect x="146.5" y="759.2" width="325.0" height="1" fill="#cfcfcf"/><rect x="146.5" y="789.6" width="325.0" height="1" fill="#cfcfcf"/>
<text x="142.0" y="702.4" font-size="9.5" fill="#555" text-anchor="end" textLength="27.9" lengthAdjust="spacing">14.4K</text>
<text x="142.0" y="732.8" font-size="9.5" fill="#555" text-anchor="end" textLength="27.9" lengthAdjust="spacing">10.8K</text>
<text x="142.0" y="763.2" font-size="9.5" fill="#555" text-anchor="end" textLength="21.9" lengthAdjust="spacing">7.2K</text>
<text x="142.0" y="793.6" font-size="9.5" fill="#555" text-anchor="end" textLength="21.9" lengthAdjust="spacing">3.6K</text>
<text x="142.0" y="824.0" font-size="9.5" fill="#555" text-anchor="end" textLength="6.0" lengthAdjust="spacing">0</text>
<text x="142.0" y="672.0" font-size="9.5" fill="#555" text-anchor="end" textLength="18.5" lengthAdjust="spacing">18K</text>
<text x="103.0" y="780.2" font-size="9.6" fill="#444" text-anchor="middle" textLength="65.0" lengthAdjust="spacing" font-weight="bold" transform="rotate(-90 103 780.2)">Amount Sold</text>
<path d="M152.8 677.6 L181.1 769.2 L209.5 762.7 L237.8 800.2 L266.1 758.3 L294.4 790.4 L322.8 764.7 L351.1 735.8 L379.4 751.2 L407.8 680.5 L436.1 734.1 L464.4 673.6" transform="translate(1.5,2)" fill="none" stroke="#000" stroke-opacity=".25" stroke-width="4.5" stroke-linejoin="round" filter="url(#bl3)"/>
<path d="M152.8 677.6 L181.1 769.2 L209.5 762.7 L237.8 800.2 L266.1 758.3 L294.4 790.4 L322.8 764.7 L351.1 735.8 L379.4 751.2 L407.8 680.5 L436.1 734.1 L464.4 673.6" fill="none" stroke="#6a6a6a" stroke-width="4" stroke-linejoin="round" stroke-linecap="round"/>
<rect x="146.5" y="668.5" width="325.0" height="152.0" fill="none" stroke="#555" stroke-width="2"/>
<circle cx="152.8" cy="677.6" r="2.6" fill="#fff" stroke="#888" stroke-width="1"/><circle cx="181.1" cy="769.2" r="2.6" fill="#fff" stroke="#888" stroke-width="1"/><circle cx="209.5" cy="762.7" r="2.6" fill="#fff" stroke="#888" stroke-width="1"/><circle cx="237.8" cy="800.2" r="2.6" fill="#fff" stroke="#888" stroke-width="1"/><circle cx="266.1" cy="758.3" r="2.6" fill="#fff" stroke="#888" stroke-width="1"/><circle cx="294.4" cy="790.4" r="2.6" fill="#fff" stroke="#888" stroke-width="1"/><circle cx="322.8" cy="764.7" r="2.6" fill="#fff" stroke="#888" stroke-width="1"/><circle cx="351.1" cy="735.8" r="2.6" fill="#fff" stroke="#888" stroke-width="1"/><circle cx="379.4" cy="751.2" r="2.6" fill="#fff" stroke="#888" stroke-width="1"/><circle cx="407.8" cy="680.5" r="2.6" fill="#fff" stroke="#888" stroke-width="1"/><circle cx="436.1" cy="734.1" r="2.6" fill="#fff" stroke="#888" stroke-width="1"/><circle cx="464.4" cy="673.6" r="2.6" fill="#fff" stroke="#888" stroke-width="1"/>
<text x="152.8" y="690.0" font-size="9.5" fill="#4a4a4a" text-anchor="middle" textLength="33.8" lengthAdjust="spacing">16.92K</text>
<text x="157.3" y="828.0" font-size="9.5" fill="#555" text-anchor="end" textLength="40.1" lengthAdjust="spacing" transform="rotate(-90 157.3 828)">2000-01</text>
<text x="181.1" y="781.6" font-size="9.5" fill="#4a4a4a" text-anchor="middle" textLength="27.9" lengthAdjust="spacing">6.08K</text>
<text x="185.6" y="828.0" font-size="9.5" fill="#555" text-anchor="end" textLength="40.1" lengthAdjust="spacing" transform="rotate(-90 185.63 828)">2000-02</text>
<text x="209.5" y="757.3" font-size="9.5" fill="#4a4a4a" text-anchor="middle" textLength="27.9" lengthAdjust="spacing">6.85K</text>
<text x="214.0" y="828.0" font-size="9.5" fill="#555" text-anchor="end" textLength="40.1" lengthAdjust="spacing" transform="rotate(-90 213.96 828)">2000-03</text>
<text x="237.8" y="812.6" font-size="9.5" fill="#4a4a4a" text-anchor="middle" textLength="21.9" lengthAdjust="spacing">2.4K</text>
<text x="242.3" y="828.0" font-size="9.5" fill="#555" text-anchor="end" textLength="40.1" lengthAdjust="spacing" transform="rotate(-90 242.29000000000002 828)">2000-04</text>
<text x="266.1" y="752.9" font-size="9.5" fill="#4a4a4a" text-anchor="middle" textLength="27.9" lengthAdjust="spacing">7.37K</text>
<text x="270.6" y="828.0" font-size="9.5" fill="#555" text-anchor="end" textLength="40.1" lengthAdjust="spacing" transform="rotate(-90 270.62 828)">2000-05</text>
<text x="294.4" y="802.8" font-size="9.5" fill="#4a4a4a" text-anchor="middle" textLength="27.9" lengthAdjust="spacing">3.56K</text>
<text x="298.9" y="828.0" font-size="9.5" fill="#555" text-anchor="end" textLength="40.1" lengthAdjust="spacing" transform="rotate(-90 298.95 828)">2000-06</text>
<text x="322.8" y="759.3" font-size="9.5" fill="#4a4a4a" text-anchor="middle" textLength="27.9" lengthAdjust="spacing">6.61K</text>
<text x="327.3" y="828.0" font-size="9.5" fill="#555" text-anchor="end" textLength="40.1" lengthAdjust="spacing" transform="rotate(-90 327.28 828)">2000-07</text>
<text x="351.1" y="730.4" font-size="9.5" fill="#4a4a4a" text-anchor="middle" textLength="33.8" lengthAdjust="spacing">10.03K</text>
<text x="355.6" y="828.0" font-size="9.5" fill="#555" text-anchor="end" textLength="40.1" lengthAdjust="spacing" transform="rotate(-90 355.61 828)">2000-08</text>
<text x="379.4" y="763.6" font-size="9.5" fill="#4a4a4a" text-anchor="middle" textLength="27.9" lengthAdjust="spacing">8.21K</text>
<text x="383.9" y="828.0" font-size="9.5" fill="#555" text-anchor="end" textLength="40.1" lengthAdjust="spacing" transform="rotate(-90 383.94 828)">2000-09</text>
<text x="407.8" y="694.1" font-size="9.5" fill="#4a4a4a" text-anchor="middle" textLength="33.8" lengthAdjust="spacing">16.58K</text>
<text x="412.3" y="828.0" font-size="9.5" fill="#555" text-anchor="end" textLength="40.1" lengthAdjust="spacing" transform="rotate(-90 412.27 828)">2000-10</text>
<text x="436.1" y="746.5" font-size="9.5" fill="#4a4a4a" text-anchor="middle" textLength="33.8" lengthAdjust="spacing">10.23K</text>
<text x="440.6" y="828.0" font-size="9.5" fill="#555" text-anchor="end" textLength="40.1" lengthAdjust="spacing" transform="rotate(-90 440.59999999999997 828)">2000-11</text>
<text x="465.9" y="687.2" font-size="9.5" fill="#4a4a4a" text-anchor="middle" textLength="27.9" lengthAdjust="spacing">17.4K</text>
<text x="468.9" y="828.0" font-size="9.5" fill="#555" text-anchor="end" textLength="40.1" lengthAdjust="spacing" transform="rotate(-90 468.93 828)">2000-12</text>
<text x="308.4" y="886.8" font-size="10" fill="#444" text-anchor="middle" textLength="33.0" lengthAdjust="spacing" font-weight="bold">month</text>
<rect x="78.5" y="655.5" width="120" height="15.5" fill="#fff" stroke="#333"/>
<text x="84.5" y="667.1" font-size="11.2" fill="#222" text-anchor="start" textLength="107.5" lengthAdjust="spacing" font-weight="bold">FusionCharts Trial</text>
</svg>

<div class="t" style="left:508px;top:155px;font-size:13.3px;font-weight:bold;color:#111">More Dashboards</div>
<svg style="left:0;top:0" width="1024" height="913" viewBox="0 0 1024 913">
<path d="M521.5 222.5 Q520.5 224 523 225.5 L558 241.5 Q561.5 243 565 241.5 L577 231.5 Q579 229.5 577 228 L545 214Z" fill="#e6e6e6"/>
<path d="M523 225.5 L558 241.5 Q561.5 243 565 241.5 L577 231.5 L577 230 L563 240 Q561 241 558 240 L522 223.5Z" fill="#f4f4f4"/>
<g stroke="#d8d8d8" stroke-width=".8"><path d="M573 188.5H578.5M574 191H578.5M573 194H578.5M574 197H578.5M573 200H578.5M574 203H578.5M573 206H578.5M574 209H578.5M573 212H578.5M574 215H578.5M573 218H578.5M574 221H578.5M573 224H578.5"/></g>
<path d="M526 209.5 L532 208 L536 209 L536 224.5 L532.5 224.5 L526 221.5Z" fill="#6e6e6e"/><path d="M526 209.5 L530 208.3 L536 209.2 L532.5 210.5Z" fill="#555"/><rect x="532.5" y="210.5" width="3.5" height="14" fill="#808080"/>
<path d="M536 199.5 L541 197.3 L550 198.5 L550 224 L545 228.2 L536 225.5Z" fill="#8cc63f"/><path d="M545 200.5 L550 198.5 L550 224 L545 228.2Z" fill="#5fa02c"/><path d="M536 199.5 L541 197.3 L550 198.5 L545 200.5Z" fill="#6aa832"/><path d="M536 200 L545 201 L545 214 L536 216Z" fill="#9ed05a"/><rect x="536.5" y="202" width="3" height="6" fill="#cdd060" opacity=".8"/>
<path d="M546.5 210 L552 208 L556.5 209 L556.5 229 L553.5 232.5 L546.5 229.5Z" fill="#c8c8c8"/><path d="M553.5 211.5 L556.5 209 L556.5 229 L553.5 232.5Z" fill="#9a9a9a"/><path d="M546.5 210 L552 208 L556.5 209 L553.5 211.5Z" fill="#8a8a8a"/>
<path d="M556.3 200.5 L562 198.3 L570 199.5 L570 231 L563.5 236.5 L556.3 233Z" fill="#2b9ad6"/><path d="M563.5 202 L570 199.5 L570 231 L563.5 236.5Z" fill="#0a6ab8"/><path d="M556.3 200.5 L562 198.3 L570 199.5 L563.5 202Z" fill="#0d74c0"/><path d="M556.5 202 L563.5 203 L563.5 214 Q560 217 556.5 215Z" fill="#55c0f0"/><path d="M563.5 217 L570 214 L570 222 L563.5 226Z" fill="#0d78c8" opacity=".6"/><path d="M556.3 226 L563.5 229 L563.5 236.5 L556.3 233Z" fill="#1478d2"/>
<path d="M526.5 204.3 L545.5 189.2 L552.4 197.8 L568.5 189.5" stroke="#3a6a9c" stroke-width="1.5" fill="none" stroke-linejoin="miter"/>
<path d="M565.5 186.5 L576.5 185.6 L569.5 193.8Z" fill="#1f6aa8"/>
</svg>

<div class="t lk" style="left:592px;top:183px;font-weight:bold">Overview</div>
<div class="t lk" style="left:601px;top:198px">Sales by Product</div>
<div class="t lk" style="left:601px;top:213.5px">Sales by Customer</div>
<div class="t lk" style="left:601px;top:228.5px">My Dashboard</div>
<div class="pb" style="left:508px;top:292px;width:430px;height:283px"></div>
<div class="ph" style="left:508px;top:269px;width:430px;height:27px"></div>
<svg style="left:516px;top:277px" width="13" height="13" viewBox="0 0 13 13"><rect x="0.5" y="5" width="3.5" height="7.5" rx=".8" fill="#f0a81c"/><rect x="4.5" y="0.8" width="3.8" height="11.7" rx=".8" fill="#2a8fe0"/><rect x="8.8" y="3" width="3.7" height="9.5" rx=".8" fill="#6cbf3c"/><rect x="10.3" y="3" width="1" height="9.5" fill="#4a9a2a" opacity=".6"/></svg>
<div class="pt" style="left:532px;top:277px">Units sold by channel</div>
<svg style="left:0;top:0" width="1024" height="913" viewBox="0 0 1024 913">
<defs><linearGradient id="wall2" gradientUnits="userSpaceOnUse" x1="576" y1="322" x2="622.0" y2="529.3"><stop offset="0" stop-color="#bcbcbc"/><stop offset=".332" stop-color="#c6c6c6"/><stop offset=".342" stop-color="#d2d2d2"/><stop offset=".7" stop-color="#e0e0e0"/><stop offset="1" stop-color="#f0f0f0"/></linearGradient>
<linearGradient id="base2" x1="0" y1="0" x2="0" y2="1"><stop offset="0" stop-color="#d0d0cc"/><stop offset=".35" stop-color="#c4c4c0"/><stop offset="1" stop-color="#858585"/></linearGradient>
<filter id="bl2" x="-50%" y="-20%" width="200%" height="140%"><feGaussianBlur stdDeviation="2"/></filter>
<clipPath id="clip2"><rect x="560" y="322" width="360" height="170"/></clipPath></defs>
<rect x="576" y="322" width="334" height="143.5" fill="url(#wall2)"/>
<path d="M910 322 L912.3 324 L912.3 463.5 L910 465.5Z" fill="#9a9a9a"/>
<rect x="576" y="349.3" width="334" height="1.4" fill="#c6c2a6"/><rect x="576" y="377.90000000000003" width="334" height="1.4" fill="#c6c2a6"/><rect x="576" y="406.7" width="334" height="1.4" fill="#c6c2a6"/><rect x="576" y="435.6" width="334" height="1.4" fill="#c6c2a6"/>
<path d="M576 465.5 L912.3 465.5 L900 475.5 L566 475.5Z" fill="#bcbcb8"/>
<path d="M912.3 465.5 L912.3 472 L900 484 L900 475.5Z" fill="#787878"/>
<rect x="566" y="475.5" width="334" height="8.5" fill="url(#base2)"/>
<text x="571.5" y="353.8" font-size="9.5" fill="#555" text-anchor="end" textLength="17.9" lengthAdjust="spacing">240</text>
<text x="571.5" y="382.3" font-size="9.5" fill="#555" text-anchor="end" textLength="17.9" lengthAdjust="spacing">180</text>
<text x="571.5" y="411.2" font-size="9.5" fill="#555" text-anchor="end" textLength="17.9" lengthAdjust="spacing">120</text>
<text x="571.5" y="440.3" font-size="9.5" fill="#555" text-anchor="end" textLength="12.0" lengthAdjust="spacing">60</text>
<text x="571.5" y="469.2" font-size="9.5" fill="#555" text-anchor="end" textLength="6.0" lengthAdjust="spacing">0</text>
<text x="571.5" y="325.3" font-size="9.5" fill="#555" text-anchor="end" textLength="17.9" lengthAdjust="spacing">300</text>
<text x="543.0" y="433.5" font-size="9.6" fill="#444" text-anchor="middle" textLength="67.6" lengthAdjust="spacing" font-weight="bold" transform="rotate(-90 543 433.5)">Quantity Sold</text>
<text x="613.0" y="498.4" font-size="9.5" fill="#555" text-anchor="middle" textLength="40.1" lengthAdjust="spacing">2000-01</text>
<text x="692.0" y="498.4" font-size="9.5" fill="#555" text-anchor="middle" textLength="40.1" lengthAdjust="spacing">2000-02</text>
<text x="771.2" y="498.4" font-size="9.5" fill="#555" text-anchor="middle" textLength="40.1" lengthAdjust="spacing">2000-03</text>
<text x="850.3" y="498.4" font-size="9.5" fill="#555" text-anchor="middle" textLength="40.1" lengthAdjust="spacing">2000-04</text>
<g clip-path="url(#clip2)">
<path d="M602.8 333.1 L615.3 324.8 L615.3 465.3 L602.8 474.6Z" fill="#000" opacity=".28" filter="url(#bl2)"/>
<path d="M623.8 469.4 L636.3 461.1 L636.3 465.3 L623.8 474.6Z" fill="#000" opacity=".28" filter="url(#bl2)"/>
<path d="M644.8 388.9 L657.3 380.6 L657.3 465.3 L644.8 474.6Z" fill="#000" opacity=".28" filter="url(#bl2)"/>
<rect x="584.5" y="331.06" width="16.3" height="28.29" fill="#cce6ff"/><rect x="584.5" y="359.05" width="16.3" height="29.01" fill="#a6caf2"/><rect x="584.5" y="387.76" width="16.3" height="33.03" fill="#99cccc"/><rect x="584.5" y="420.49" width="16.3" height="18.24" fill="#9999cc"/><rect x="584.5" y="438.43" width="16.3" height="6.90" fill="#aaaaaa"/><rect x="584.5" y="445.03" width="16.3" height="8.19" fill="#9999cc"/><rect x="584.5" y="452.93" width="16.3" height="21.97" fill="#669999"/>
<clipPath id="sc15"><path d="M600.8 331.06 L610.3 321.76 L610.3 465.60 L600.8 474.90Z"/></clipPath><g clip-path="url(#sc15)"><rect x="600.8" y="321.76" width="9.5" height="17.11" fill="#9999cc"/><rect x="600.8" y="338.58" width="9.5" height="9.47" fill="#6699cc"/><rect x="600.8" y="347.75" width="9.5" height="44.62" fill="#669999"/><rect x="600.8" y="392.07" width="9.5" height="29.34" fill="#666699"/><rect x="600.8" y="421.11" width="9.5" height="21.70" fill="#666666"/><rect x="600.8" y="442.50" width="9.5" height="2.59" fill="#336666"/><rect x="600.8" y="444.80" width="9.5" height="30.10" fill="#595959"/></g>
<path d="M584.5 331.1 L594.0 321.8 L610.3 321.8 L600.8 331.1Z" fill="#a8d4ff"/><path d="M584.5 331.1 L592.6 323.2 L602.2 329.7 L600.8 331.1Z" fill="#99ccff"/><path d="M584.5 331.1 L588.8 326.9 L600.0 331.1Z" fill="#99cccc"/><path d="M599.7 321.8 L610.3 321.8 L606.0 325.9Z" fill="#cce6ff"/>
<rect x="605.5" y="467.38" width="16.3" height="2.11" fill="#ffcc66"/><rect x="605.5" y="469.18" width="16.3" height="1.38" fill="#e0c860"/><rect x="605.5" y="470.26" width="16.3" height="3.19" fill="#dda033"/><rect x="605.5" y="473.15" width="16.3" height="1.75" fill="#cc9933"/>
<clipPath id="sc16"><path d="M621.8 467.38 L631.3 458.07 L631.3 465.60 L621.8 474.90Z"/></clipPath><g clip-path="url(#sc16)"><rect x="621.8" y="458.07" width="9.5" height="8.56" fill="#cc9900"/><rect x="621.8" y="466.34" width="9.5" height="8.56" fill="#cc6600"/></g>
<path d="M605.5 467.4 L615.0 458.1 L631.3 458.1 L621.8 467.4Z" fill="#ffcc66"/><path d="M605.5 467.4 L613.6 459.5 L623.2 466.0 L621.8 467.4Z" fill="#ffcc33"/><path d="M605.5 467.4 L609.8 463.2 L621.0 467.4Z" fill="#cc9900"/><path d="M620.7 458.1 L631.3 458.1 L627.0 462.3Z" fill="#ffcc99"/>
<rect x="626.5" y="386.94" width="16.3" height="13.98" fill="#cccc66"/><rect x="626.5" y="400.61" width="16.3" height="13.98" fill="#99cc66"/><rect x="626.5" y="414.29" width="16.3" height="11.35" fill="#99cc33"/><rect x="626.5" y="425.33" width="16.3" height="16.96" fill="#999933"/><rect x="626.5" y="441.99" width="16.3" height="14.68" fill="#669933"/><rect x="626.5" y="456.37" width="16.3" height="11.70" fill="#669900"/><rect x="626.5" y="467.76" width="16.3" height="7.14" fill="#666600"/>
<clipPath id="sc17"><path d="M642.8 386.94 L652.3 377.64 L652.3 465.60 L642.8 474.90Z"/></clipPath><g clip-path="url(#sc17)"><rect x="642.8" y="377.64" width="9.5" height="25.51" fill="#669900"/><rect x="642.8" y="402.85" width="9.5" height="28.42" fill="#666600"/><rect x="642.8" y="430.97" width="9.5" height="36.18" fill="#336600"/><rect x="642.8" y="466.84" width="9.5" height="8.06" fill="#333300"/></g>
<path d="M626.5 386.9 L636.0 377.6 L652.3 377.6 L642.8 386.9Z" fill="#b3cc4d"/><path d="M626.5 386.9 L634.6 379.0 L644.2 385.5 L642.8 386.9Z" fill="#99cc33"/><path d="M626.5 386.9 L630.8 382.8 L642.0 386.9Z" fill="#669900"/><path d="M641.7 377.6 L652.3 377.6 L648.0 381.8Z" fill="#cccc66"/>
<path d="M682.3 412.1 L694.8 403.8 L694.8 465.3 L682.3 474.6Z" fill="#000" opacity=".28" filter="url(#bl2)"/>
<path d="M703.3 467.4 L715.8 459.1 L715.8 465.3 L703.3 474.6Z" fill="#000" opacity=".28" filter="url(#bl2)"/>
<path d="M724.3 433.7 L736.8 425.4 L736.8 465.3 L724.3 474.6Z" fill="#000" opacity=".28" filter="url(#bl2)"/>
<rect x="664.0" y="410.06" width="16.3" height="12.89" fill="#cce6ff"/><rect x="664.0" y="422.64" width="16.3" height="13.21" fill="#a6caf2"/><rect x="664.0" y="435.55" width="16.3" height="15.02" fill="#99cccc"/><rect x="664.0" y="450.27" width="16.3" height="8.37" fill="#9999cc"/><rect x="664.0" y="458.34" width="16.3" height="3.27" fill="#aaaaaa"/><rect x="664.0" y="461.30" width="16.3" height="3.85" fill="#9999cc"/><rect x="664.0" y="464.85" width="16.3" height="10.05" fill="#669999"/>
<clipPath id="sc18"><path d="M680.3 410.06 L689.8 400.76 L689.8 465.60 L680.3 474.90Z"/></clipPath><g clip-path="url(#sc18)"><rect x="680.3" y="400.76" width="9.5" height="8.42" fill="#9999cc"/><rect x="680.3" y="408.88" width="9.5" height="4.73" fill="#6699cc"/><rect x="680.3" y="413.31" width="9.5" height="21.71" fill="#669999"/><rect x="680.3" y="434.72" width="9.5" height="14.33" fill="#666699"/><rect x="680.3" y="448.75" width="9.5" height="10.64" fill="#666666"/><rect x="680.3" y="459.09" width="9.5" height="1.41" fill="#336666"/><rect x="680.3" y="460.20" width="9.5" height="14.70" fill="#595959"/></g>
<path d="M664.0 410.1 L673.5 400.8 L689.8 400.8 L680.3 410.1Z" fill="#a8d4ff"/><path d="M664.0 410.1 L672.1 402.2 L681.7 408.7 L680.3 410.1Z" fill="#99ccff"/><path d="M664.0 410.1 L668.3 405.9 L679.5 410.1Z" fill="#99cccc"/><path d="M679.2 400.8 L689.8 400.8 L685.5 404.9Z" fill="#cce6ff"/>
<rect x="685.0" y="465.45" width="16.3" height="2.59" fill="#ffcc66"/><rect x="685.0" y="467.74" width="16.3" height="1.67" fill="#e0c860"/><rect x="685.0" y="469.11" width="16.3" height="3.96" fill="#dda033"/><rect x="685.0" y="472.77" width="16.3" height="2.13" fill="#cc9933"/>
<clipPath id="sc19"><path d="M701.3 465.45 L710.8 456.15 L710.8 465.60 L701.3 474.90Z"/></clipPath><g clip-path="url(#sc19)"><rect x="701.3" y="456.15" width="9.5" height="9.53" fill="#cc9900"/><rect x="701.3" y="465.37" width="9.5" height="9.53" fill="#cc6600"/></g>
<path d="M685.0 465.4 L694.5 456.1 L710.8 456.1 L701.3 465.4Z" fill="#ffcc66"/><path d="M685.0 465.4 L693.1 457.5 L702.7 464.1 L701.3 465.4Z" fill="#ffcc33"/><path d="M685.0 465.4 L689.3 461.3 L700.5 465.4Z" fill="#cc9900"/><path d="M700.2 456.1 L710.8 456.1 L706.5 460.3Z" fill="#ffcc99"/>
<rect x="706.0" y="431.73" width="16.3" height="6.99" fill="#cccc66"/><rect x="706.0" y="438.42" width="16.3" height="6.99" fill="#99cc66"/><rect x="706.0" y="445.11" width="16.3" height="5.70" fill="#99cc33"/><rect x="706.0" y="450.51" width="16.3" height="8.44" fill="#999933"/><rect x="706.0" y="458.65" width="16.3" height="7.33" fill="#669933"/><rect x="706.0" y="465.68" width="16.3" height="5.87" fill="#669900"/><rect x="706.0" y="471.26" width="16.3" height="3.64" fill="#666600"/>
<clipPath id="sc20"><path d="M722.3 431.73 L731.8 422.43 L731.8 465.60 L722.3 474.90Z"/></clipPath><g clip-path="url(#sc20)"><rect x="722.3" y="422.43" width="9.5" height="13.86" fill="#669900"/><rect x="722.3" y="436.00" width="9.5" height="15.43" fill="#666600"/><rect x="722.3" y="451.12" width="9.5" height="19.60" fill="#336600"/><rect x="722.3" y="470.43" width="9.5" height="4.47" fill="#333300"/></g>
<path d="M706.0 431.7 L715.5 422.4 L731.8 422.4 L722.3 431.7Z" fill="#b3cc4d"/><path d="M706.0 431.7 L714.1 423.8 L723.7 430.3 L722.3 431.7Z" fill="#99cc33"/><path d="M706.0 431.7 L710.3 427.5 L721.5 431.7Z" fill="#669900"/><path d="M721.2 422.4 L731.8 422.4 L727.5 426.6Z" fill="#cccc66"/>
<path d="M761.3 356.2 L773.8 347.9 L773.8 465.3 L761.3 474.6Z" fill="#000" opacity=".28" filter="url(#bl2)"/>
<path d="M782.3 471.8 L794.8 463.5 L794.8 465.3 L782.3 474.6Z" fill="#000" opacity=".28" filter="url(#bl2)"/>
<path d="M803.3 419.3 L815.8 411.0 L815.8 465.3 L803.3 474.6Z" fill="#000" opacity=".28" filter="url(#bl2)"/>
<rect x="743.0" y="354.18" width="16.3" height="23.78" fill="#cce6ff"/><rect x="743.0" y="377.66" width="16.3" height="24.38" fill="#a6caf2"/><rect x="743.0" y="401.75" width="16.3" height="27.75" fill="#99cccc"/><rect x="743.0" y="429.20" width="16.3" height="15.35" fill="#9999cc"/><rect x="743.0" y="444.25" width="16.3" height="5.84" fill="#aaaaaa"/><rect x="743.0" y="449.79" width="16.3" height="6.92" fill="#9999cc"/><rect x="743.0" y="456.42" width="16.3" height="18.48" fill="#669999"/>
<clipPath id="sc21"><path d="M759.3 354.18 L768.8 344.88 L768.8 465.60 L759.3 474.90Z"/></clipPath><g clip-path="url(#sc21)"><rect x="759.3" y="344.88" width="9.5" height="14.57" fill="#9999cc"/><rect x="759.3" y="359.15" width="9.5" height="8.08" fill="#6699cc"/><rect x="759.3" y="366.94" width="9.5" height="37.92" fill="#669999"/><rect x="759.3" y="404.55" width="9.5" height="24.95" fill="#666699"/><rect x="759.3" y="429.20" width="9.5" height="18.46" fill="#666666"/><rect x="759.3" y="447.36" width="9.5" height="2.25" fill="#336666"/><rect x="759.3" y="449.31" width="9.5" height="25.59" fill="#595959"/></g>
<path d="M743.0 354.2 L752.5 344.9 L768.8 344.9 L759.3 354.2Z" fill="#a8d4ff"/><path d="M743.0 354.2 L751.1 346.3 L760.7 352.8 L759.3 354.2Z" fill="#99ccff"/><path d="M743.0 354.2 L747.3 350.0 L758.5 354.2Z" fill="#99cccc"/><path d="M758.2 344.9 L768.8 344.9 L764.5 349.1Z" fill="#cce6ff"/>
<rect x="764.0" y="469.78" width="16.3" height="1.50" fill="#ffcc66"/><rect x="764.0" y="470.99" width="16.3" height="1.02" fill="#e0c860"/><rect x="764.0" y="471.71" width="16.3" height="2.23" fill="#dda033"/><rect x="764.0" y="473.64" width="16.3" height="1.26" fill="#cc9933"/>
<clipPath id="sc22"><path d="M780.3 469.78 L789.8 460.48 L789.8 465.60 L780.3 474.90Z"/></clipPath><g clip-path="url(#sc22)"><rect x="780.3" y="460.48" width="9.5" height="7.36" fill="#cc9900"/><rect x="780.3" y="467.54" width="9.5" height="7.36" fill="#cc6600"/></g>
<path d="M764.0 469.8 L773.5 460.5 L789.8 460.5 L780.3 469.8Z" fill="#ffcc66"/><path d="M764.0 469.8 L772.1 461.9 L781.7 468.4 L780.3 469.8Z" fill="#ffcc33"/><path d="M764.0 469.8 L768.3 465.6 L779.5 469.8Z" fill="#cc9900"/><path d="M779.2 460.5 L789.8 460.5 L785.5 464.7Z" fill="#ffcc99"/>
<rect x="785.0" y="417.28" width="16.3" height="9.24" fill="#cccc66"/><rect x="785.0" y="426.22" width="16.3" height="9.24" fill="#99cc66"/><rect x="785.0" y="435.16" width="16.3" height="7.52" fill="#99cc33"/><rect x="785.0" y="442.39" width="16.3" height="11.19" fill="#999933"/><rect x="785.0" y="453.28" width="16.3" height="9.70" fill="#669933"/><rect x="785.0" y="462.68" width="16.3" height="7.75" fill="#669900"/><rect x="785.0" y="470.13" width="16.3" height="4.77" fill="#666600"/>
<clipPath id="sc23"><path d="M801.3 417.28 L810.8 407.98 L810.8 465.60 L801.3 474.90Z"/></clipPath><g clip-path="url(#sc23)"><rect x="801.3" y="407.98" width="9.5" height="17.62" fill="#669900"/><rect x="801.3" y="425.30" width="9.5" height="19.62" fill="#666600"/><rect x="801.3" y="444.62" width="9.5" height="24.95" fill="#336600"/><rect x="801.3" y="469.27" width="9.5" height="5.63" fill="#333300"/></g>
<path d="M785.0 417.3 L794.5 408.0 L810.8 408.0 L801.3 417.3Z" fill="#b3cc4d"/><path d="M785.0 417.3 L793.1 409.4 L802.7 415.9 L801.3 417.3Z" fill="#99cc33"/><path d="M785.0 417.3 L789.3 413.1 L800.5 417.3Z" fill="#669900"/><path d="M800.2 408.0 L810.8 408.0 L806.5 412.2Z" fill="#cccc66"/>
<path d="M840.7 361.0 L853.2 352.7 L853.2 465.3 L840.7 474.6Z" fill="#000" opacity=".28" filter="url(#bl2)"/>
<path d="M861.7 456.4 L874.2 448.1 L874.2 465.3 L861.7 474.6Z" fill="#000" opacity=".28" filter="url(#bl2)"/>
<path d="M882.7 411.6 L895.2 403.3 L895.2 465.3 L882.7 474.6Z" fill="#000" opacity=".28" filter="url(#bl2)"/>
<rect x="822.4" y="359.00" width="16.3" height="22.84" fill="#cce6ff"/><rect x="822.4" y="381.54" width="16.3" height="23.42" fill="#a6caf2"/><rect x="822.4" y="404.66" width="16.3" height="26.66" fill="#99cccc"/><rect x="822.4" y="431.02" width="16.3" height="14.75" fill="#9999cc"/><rect x="822.4" y="445.47" width="16.3" height="5.62" fill="#aaaaaa"/><rect x="822.4" y="450.79" width="16.3" height="6.66" fill="#9999cc"/><rect x="822.4" y="457.14" width="16.3" height="17.76" fill="#669999"/>
<clipPath id="sc24"><path d="M838.7 359.00 L848.2 349.70 L848.2 465.60 L838.7 474.90Z"/></clipPath><g clip-path="url(#sc24)"><rect x="838.7" y="349.70" width="9.5" height="14.04" fill="#9999cc"/><rect x="838.7" y="363.44" width="9.5" height="7.79" fill="#6699cc"/><rect x="838.7" y="370.93" width="9.5" height="36.52" fill="#669999"/><rect x="838.7" y="407.15" width="9.5" height="24.03" fill="#666699"/><rect x="838.7" y="430.88" width="9.5" height="17.79" fill="#666666"/><rect x="838.7" y="448.37" width="9.5" height="2.17" fill="#336666"/><rect x="838.7" y="450.24" width="9.5" height="24.66" fill="#595959"/></g>
<path d="M822.4 359.0 L831.9 349.7 L848.2 349.7 L838.7 359.0Z" fill="#a8d4ff"/><path d="M822.4 359.0 L830.5 351.1 L840.1 357.6 L838.7 359.0Z" fill="#99ccff"/><path d="M822.4 359.0 L826.7 354.8 L837.9 359.0Z" fill="#99cccc"/><path d="M837.6 349.7 L848.2 349.7 L843.9 353.9Z" fill="#cce6ff"/>
<rect x="843.4" y="454.37" width="16.3" height="5.36" fill="#ffcc66"/><rect x="843.4" y="459.43" width="16.3" height="3.33" fill="#e0c860"/><rect x="843.4" y="462.46" width="16.3" height="8.39" fill="#dda033"/><rect x="843.4" y="470.55" width="16.3" height="4.35" fill="#cc9933"/>
<clipPath id="sc25"><path d="M859.7 454.37 L869.2 445.07 L869.2 465.60 L859.7 474.90Z"/></clipPath><g clip-path="url(#sc25)"><rect x="859.7" y="445.07" width="9.5" height="15.07" fill="#cc9900"/><rect x="859.7" y="459.84" width="9.5" height="15.07" fill="#cc6600"/></g>
<path d="M843.4 454.4 L852.9 445.1 L869.2 445.1 L859.7 454.4Z" fill="#ffcc66"/><path d="M843.4 454.4 L851.5 446.5 L861.1 453.0 L859.7 454.4Z" fill="#ffcc33"/><path d="M843.4 454.4 L847.7 450.2 L858.9 454.4Z" fill="#cc9900"/><path d="M858.6 445.1 L869.2 445.1 L864.9 449.3Z" fill="#ffcc99"/>
<rect x="864.4" y="409.58" width="16.3" height="10.44" fill="#cccc66"/><rect x="864.4" y="419.72" width="16.3" height="10.44" fill="#99cc66"/><rect x="864.4" y="429.86" width="16.3" height="8.49" fill="#99cc33"/><rect x="864.4" y="438.06" width="16.3" height="12.65" fill="#999933"/><rect x="864.4" y="450.41" width="16.3" height="10.96" fill="#669933"/><rect x="864.4" y="461.07" width="16.3" height="8.75" fill="#669900"/><rect x="864.4" y="469.53" width="16.3" height="5.37" fill="#666600"/>
<clipPath id="sc26"><path d="M880.7 409.58 L890.2 400.28 L890.2 465.60 L880.7 474.90Z"/></clipPath><g clip-path="url(#sc26)"><rect x="880.7" y="400.28" width="9.5" height="19.62" fill="#669900"/><rect x="880.7" y="419.60" width="9.5" height="21.85" fill="#666600"/><rect x="880.7" y="441.15" width="9.5" height="27.80" fill="#336600"/><rect x="880.7" y="468.65" width="9.5" height="6.25" fill="#333300"/></g>
<path d="M864.4 409.6 L873.9 400.3 L890.2 400.3 L880.7 409.6Z" fill="#b3cc4d"/><path d="M864.4 409.6 L872.5 401.7 L882.1 408.2 L880.7 409.6Z" fill="#99cc33"/><path d="M864.4 409.6 L868.7 405.4 L879.9 409.6Z" fill="#669900"/><path d="M879.6 400.3 L890.2 400.3 L885.9 404.5Z" fill="#cccc66"/>
</g>
<text x="592.2" y="345.0" font-size="9.5" fill="#4a4a4a" text-anchor="middle" textLength="17.9" lengthAdjust="spacing">298</text>
<text x="623.2" y="452.0" font-size="9.5" fill="#4a4a4a" text-anchor="middle" textLength="12.0" lengthAdjust="spacing">15</text>
<text x="644.2" y="371.5" font-size="9.5" fill="#4a4a4a" text-anchor="middle" textLength="17.9" lengthAdjust="spacing">182</text>
<text x="681.7" y="394.7" font-size="9.5" fill="#4a4a4a" text-anchor="middle" textLength="17.9" lengthAdjust="spacing">134</text>
<text x="702.7" y="450.0" font-size="9.5" fill="#4a4a4a" text-anchor="middle" textLength="12.0" lengthAdjust="spacing">19</text>
<text x="723.7" y="416.3" font-size="9.5" fill="#4a4a4a" text-anchor="middle" textLength="12.0" lengthAdjust="spacing">89</text>
<text x="760.7" y="338.8" font-size="9.5" fill="#4a4a4a" text-anchor="middle" textLength="17.9" lengthAdjust="spacing">250</text>
<text x="781.7" y="454.4" font-size="9.5" fill="#4a4a4a" text-anchor="middle" textLength="12.0" lengthAdjust="spacing">10</text>
<text x="802.7" y="401.9" font-size="9.5" fill="#4a4a4a" text-anchor="middle" textLength="17.9" lengthAdjust="spacing">119</text>
<text x="840.1" y="343.6" font-size="9.5" fill="#4a4a4a" text-anchor="middle" textLength="17.9" lengthAdjust="spacing">240</text>
<text x="861.1" y="439.0" font-size="9.5" fill="#4a4a4a" text-anchor="middle" textLength="12.0" lengthAdjust="spacing">42</text>
<text x="882.1" y="394.2" font-size="9.5" fill="#4a4a4a" text-anchor="middle" textLength="17.9" lengthAdjust="spacing">135</text>
<text x="742.6" y="517.3" font-size="10" fill="#444" text-anchor="middle" textLength="38.0" lengthAdjust="spacing" font-weight="bold">quarter</text>
<rect x="646.5" y="528.3" width="200" height="18.5" fill="#8c8c8c"/>
<rect x="644.5" y="526" width="200" height="18.5" fill="#ececec" stroke="#aaa"/>
<rect x="649.5" y="532.5" width="2.6" height="6.5" fill="#cce0f8" stroke="#8fb8e6" stroke-width=".5"/><rect x="653.1" y="529.5" width="2.6" height="9.5" fill="#cce0f8" stroke="#8fb8e6" stroke-width=".5"/><rect x="656.7" y="534.0" width="2.6" height="5" fill="#cce0f8" stroke="#8fb8e6" stroke-width=".5"/>
<text x="668.4" y="536.6" font-size="9.5" fill="#555" text-anchor="start" textLength="28.0" lengthAdjust="spacing">Direct</text>
<rect x="714" y="532.5" width="2.6" height="6.5" fill="#f2c440" stroke="#d99a14" stroke-width=".5"/><rect x="717.6" y="529.5" width="2.6" height="9.5" fill="#f2c440" stroke="#d99a14" stroke-width=".5"/><rect x="721.2" y="534.0" width="2.6" height="5" fill="#f2c440" stroke="#d99a14" stroke-width=".5"/>
<text x="734.3" y="536.6" font-size="9.5" fill="#555" text-anchor="start" textLength="36.6" lengthAdjust="spacing">Indirect</text>
<rect x="780.4" y="532.5" width="2.6" height="6.5" fill="#a0c030" stroke="#6a9010" stroke-width=".5"/><rect x="784.0" y="529.5" width="2.6" height="9.5" fill="#a0c030" stroke="#6a9010" stroke-width=".5"/><rect x="787.6" y="534.0" width="2.6" height="5" fill="#a0c030" stroke="#6a9010" stroke-width=".5"/>
<text x="800.2" y="536.6" font-size="9.5" fill="#555" text-anchor="start" textLength="31.6" lengthAdjust="spacing">Others</text>
<rect x="518.0" y="308.5" width="120" height="15.5" fill="#fff" stroke="#333"/>
<text x="524.0" y="320.1" font-size="11.2" fill="#222" text-anchor="start" textLength="107.5" lengthAdjust="spacing" font-weight="bold">FusionCharts Trial</text>
</svg>

<div class="pb" style="left:508px;top:603px;width:430px;height:282px"></div>
<div class="ph" style="left:508px;top:580px;width:430px;height:27px"></div>
<svg style="left:516px;top:587px" width="13" height="13" viewBox="0 0 13 13"><rect x="0.5" y="5" width="3.5" height="7.5" rx=".8" fill="#f0a81c"/><rect x="4.5" y="0.8" width="3.8" height="11.7" rx=".8" fill="#2a8fe0"/><rect x="8.8" y="3" width="3.7" height="9.5" rx=".8" fill="#6cbf3c"/><rect x="10.3" y="3" width="1" height="9.5" fill="#4a9a2a" opacity=".6"/></svg>
<div class="pt" style="left:532px;top:588px">Amount sold by US state</div>
<svg style="left:0;top:0" width="1024" height="913" viewBox="0 0 1024 913">
<defs><clipPath id="pB"><path d="M721.7 735.3 L793.2 735.3 A71.5 28.3 0 0 0 712.4 707.2Z"/></clipPath><clipPath id="pD"><path d="M721.7 735.3 L712.4 707.2 A71.5 28.3 0 0 0 703.1 762.6Z"/></clipPath><clipPath id="pM"><path d="M721.7 735.3 L703.1 762.6 A71.5 28.3 0 0 0 743.4 762.3Z"/></clipPath><clipPath id="pW"><path d="M721.7 735.3 L743.4 762.3 A71.5 28.3 0 0 0 793.2 735.3Z"/></clipPath><clipPath id="pS"><path d="M650.2 735.3 A71.5 28.3 0 0 0 793.2 735.3 L793.2 748.8 A71.5 28.3 0 0 1 650.2 748.8Z"/></clipPath></defs>
<g clip-path="url(#pS)"><rect x="650" y="734.3" width="5.8" height="43.8" fill="#e6a817"/><rect x="655.5" y="734.3" width="12.8" height="43.8" fill="#cc9933"/><rect x="668" y="734.3" width="10.3" height="43.8" fill="#cccc33"/><rect x="678" y="734.3" width="5.3" height="43.8" fill="#cccc66"/><rect x="683" y="734.3" width="15.3" height="43.8" fill="#ffcc66"/><rect x="698" y="734.3" width="4.3" height="43.8" fill="#ffcc99"/><rect x="702" y="734.3" width="21.3" height="43.8" fill="#cccc66"/><rect x="723" y="734.3" width="12.3" height="43.8" fill="#99cc66"/><rect x="735" y="734.3" width="8.6" height="43.8" fill="#99cc33"/><rect x="743.3" y="734.3" width="29.0" height="43.8" fill="#cc9966"/><rect x="772" y="734.3" width="5.3" height="43.8" fill="#cc9933"/><rect x="777" y="734.3" width="17.3" height="43.8" fill="#cc6633"/></g>
<g clip-path="url(#pB)"><rect x="640" y="700" width="160" height="40" fill="#99cccc"/><path d="M700 700 L744.5 700 L756.5 737 L700 737Z" fill="#a8c8f0"/></g>
<g clip-path="url(#pD)"><rect x="640" y="700" width="90" height="70" fill="#cccc33"/><ellipse cx="702.7" cy="744.3" rx="34" ry="26.5" fill="#ffcc33"/><ellipse cx="702.7" cy="744.8" rx="32.5" ry="25.5" fill="#ffcc66"/></g>
<g clip-path="url(#pM)"><rect x="690" y="730" width="70" height="40" fill="#99cc33"/><path d="M721.7 735.3 L731 765 L700 765Z" fill="#99cc66"/><path d="M713 749 L722 765 L700 765Z" fill="#cccc66"/><path d="M721.7 735.3 L717 742 L704 764 L700 760Z" fill="#cccc66"/></g>
<g clip-path="url(#pW)"><rect x="715" y="730" width="90" height="40" fill="#cc6633"/><rect x="715" y="730" width="48.5" height="40" fill="#cc9933"/><rect x="715" y="730" width="40" height="40" fill="#cc9966"/><path d="M721.7 735.3 L739 735.3 L742 752 L738 756Z" fill="#ff9966"/></g>
<path d="M767.5 714.2 L788 703.4 H791.5 M627 732.3 L650.3 733.6 M778.2 758.7 L800.7 774.6 H803.5 M722.5 766 V798.6 H727.5" stroke="#999" stroke-width="1" fill="none"/>
<text x="793.3" y="706.8" font-size="9.5" fill="#444" text-anchor="start" textLength="83.0" lengthAdjust="spacing">Bolivar, 108.43K</text>
<text x="625.3" y="735.7" font-size="9.5" fill="#444" text-anchor="end" textLength="87.0" lengthAdjust="spacing">Decatur, 175.17K</text>
<text x="805.4" y="778.1" font-size="9.5" fill="#444" text-anchor="start" textLength="101.0" lengthAdjust="spacing">Washington, 80.38K</text>
<text x="728.9" y="802.0" font-size="9.5" fill="#444" text-anchor="start" textLength="81.0" lengthAdjust="spacing">Marshal, 36.57K</text>
<rect x="518.0" y="618.5" width="120" height="15.5" fill="#fff" stroke="#333"/>
<text x="524.0" y="630.1" font-size="11.2" fill="#222" text-anchor="start" textLength="107.5" lengthAdjust="spacing" font-weight="bold">FusionCharts Trial</text>
</svg>

</div>

</div>

<!-- scrollbar -->
<div class="abs" style="left:1001px;top:106px;width:18px;height:803px;background:#e6e6e6"></div>
<div class="abs sbb" style="left:1001px;top:107px;width:18px;height:17px"><svg style="left:4px;top:5px" width="8" height="5" viewBox="0 0 8 5"><path d="M0 5 L4 0 L8 5Z" fill="#000"/></svg></div>
<div class="abs sbb" style="left:1001px;top:258px;width:18px;height:566px"></div>
<div class="abs sbb" style="left:1001px;top:890px;width:18px;height:18px"><svg style="left:4px;top:6px" width="8" height="5" viewBox="0 0 8 5"><path d="M0 0 L4 5 L8 0Z" fill="#000"/></svg></div>

<!-- bottom bar -->
<div class="abs" style="left:4px;top:885px;width:997px;height:24px;background:#fff"></div>
<div class="abs" style="left:18px;top:886px;width:970px;height:23px;background:#e7e7e7;border:1px solid #c4c4c4;border-bottom:none"></div>
<div class="abs" style="left:829px;top:887px;width:1px;height:22px;background:#c4c4c4"></div>
<div class="abs" style="left:830px;top:887px;width:1px;height:22px;background:#f6f6f6"></div>
<div class="abs" style="left:883px;top:887px;width:1px;height:22px;background:#c4c4c4"></div>
<div class="abs" style="left:884px;top:887px;width:1px;height:22px;background:#f6f6f6"></div>
<div class="t" style="left:836px;top:893px;font-size:11.5px;font-weight:bold;color:#15152e"><span style="display:inline-block;transform:scaleX(.9);transform-origin:0 0">Settings</span></div>
<div class="t" style="left:891px;top:893px;font-size:11.5px;font-weight:bold;color:#15152e"><span style="display:inline-block;transform:scaleX(.9);transform-origin:0 0">Online Friends (0)</span></div>

</body>
</html>
